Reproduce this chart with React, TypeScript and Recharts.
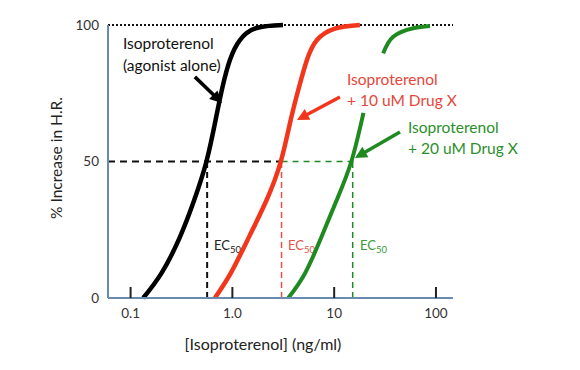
import React from "react";
import {
  LineChart,
  Line,
  XAxis,
  YAxis,
  ReferenceLine,
  Customized,
} from "recharts";

// ---------- data ----------
const blackX = [0.133, 0.202, 0.305, 0.422, 0.556, 0.684, 0.8, 0.946, 1.186, 1.73, 3.14];
const blackY = [0, 9.2, 22.3, 35.9, 50, 65.2, 77.3, 87.2, 94.5, 98.9, 100];

const redX = [0.673, 0.967, 1.454, 2.17, 2.99, 3.74, 4.52, 5.4, 6.77, 10.17, 17.9];
const redY = [0, 9.2, 22.3, 35.9, 50, 65.2, 77.3, 87.2, 94.5, 98.7, 100];

const greenLowX = [3.54, 5.16, 7.53, 10.6, 14.75, 19.4];
const greenLowY = [0, 9, 22.5, 35.9, 50, 67.8];
const greenHighX = [30.3, 38.0, 59.8, 87.3];
const greenHighY = [89.6, 95.7, 98.8, 99.6];

const ec50Black = 0.565;
const ec50Red = 3.04;
const ec50Green = 15.2;
const greenDashEnd = 16.2;

const xTicks = [0.1, 1, 10, 100];
const xTickLabels = ["0.1", "1.0", "10", "100"];
const yTicks = [0, 50, 100];

// arrows: [fromX, fromY, toX, toY]
const arrowBlack = [0.428, 81.0, 0.789, 71.4];
const arrowRed = [11.4, 73.6, 4.31, 65.2];
const arrowGreen = [44.3, 60.8, 16.0, 51.3];

const toPts = (xs: number[], ys: number[]) => xs.map((x, i) => ({ x, y: ys[i] }));

const FONT = "Lato, 'Open Sans', sans-serif";
const RED = "#f2361c";
const GREEN = "#1f8a1f";
const AXIS = "#6a8bb0";

const XTick = (props: any) => {
  const { x, y, payload } = props;
  const i = xTicks.indexOf(payload.value);
  const y0 = y - 10;
  return (
    <g>
      <line x1={x} y1={y0} x2={x} y2={y0 - 11} stroke="#222" strokeWidth={2} />
      <text x={x} y={y} dy="0.71em" textAnchor="middle" fontSize={13.5} fill="#333" fontFamily={FONT}>
        {i >= 0 ? xTickLabels[i] : payload.value}
      </text>
    </g>
  );
};

const makeArrow = (color: string, width: number) => (p: any) => {
  const { x1, y1, x2, y2 } = p;
  const dx = x2 - x1;
  const dy = y2 - y1;
  const len = Math.sqrt(dx * dx + dy * dy) || 1;
  const ux = dx / len;
  const uy = dy / len;
  const hl = 12;
  const hw = 6;
  const bx = x2 - ux * hl;
  const by = y2 - uy * hl;
  const pts = `${x2},${y2} ${bx - uy * hw},${by + ux * hw} ${bx + uy * hw},${by - ux * hw}`;
  return (
    <g>
      <line x1={x1} y1={y1} x2={bx + ux * 2} y2={by + uy * 2} stroke={color} strokeWidth={width} />
      <polygon points={pts} fill={color} />
    </g>
  );
};

const Ec = ({ x, color }: { x: number; color: string }) => (
  <text x={x} y={250} fontSize={13} fill={color} fontFamily={FONT}>
    EC
    <tspan fontSize={9.5} dy={3}>
      50
    </tspan>
  </text>
);

const Annotations = () => (
  <g fontFamily={FONT}>
    <text x={123} y={49} fontSize={15.5} fill="#111">Isoproterenol</text>
    <text x={123} y={71} fontSize={15.5} fill="#111">(agonist alone)</text>
    <text x={347} y={85} fontSize={15.5} fill="#e5463a">Isoproterenol</text>
    <text x={347} y={106} fontSize={15.5} fill="#e5463a">+ 10 uM Drug X</text>
    <text x={408} y={133} fontSize={15.5} fill="#2a8f2a">Isoproterenol</text>
    <text x={408} y={154} fontSize={15.5} fill="#2a8f2a">+ 20 uM Drug X</text>
    <Ec x={214} color="#222" />
    <Ec x={288} color="#e0524a" />
    <Ec x={360} color="#3a9a3a" />
    <text x={263} y={350} textAnchor="middle" fontSize={16} fill="#222">
      [Isoproterenol] (ng/ml)
    </text>
    <text
      x={58}
      y={158}
      textAnchor="middle"
      dominantBaseline="middle"
      fontSize={15.5}
      fill="#222"
      transform="rotate(-90 58 158)"
    >
      % Increase in H.R.
    </text>
  </g>
);

export default function App() {
  return (
    <div style={{ position: "absolute", left: 0, top: 0, background: "#fff" }}>
      <LineChart
        width={580}
        height={370}
        margin={{ top: 25, right: 127, bottom: 42, left: 68 }}
      >
        <XAxis
          type="number"
          dataKey="x"
          scale="log"
          domain={[0.06, 147]}
          allowDataOverflow
          ticks={xTicks}
          tick={<XTick />}
          tickLine={false}
          tickSize={8}
          tickMargin={2}
          height={30}
          axisLine={{ stroke: AXIS, strokeWidth: 2 }}
        />
        <YAxis
          type="number"
          dataKey="y"
          domain={[0, 100]}
          ticks={yTicks}
          width={40}
          tickLine={false}
          tickSize={6}
          tickMargin={3}
          tick={{ fontSize: 13.5, fill: "#333", fontFamily: FONT }}
          axisLine={{ stroke: AXIS, strokeWidth: 2 }}
        />
        <ReferenceLine y={100} stroke="#111" strokeWidth={2} strokeDasharray="2 2" />
        <ReferenceLine
          segment={[{ x: 0.06, y: 50 }, { x: ec50Red, y: 50 }]}
          stroke="#111"
          strokeWidth={2}
          strokeDasharray="7 5"
        />
        <ReferenceLine
          segment={[{ x: ec50Red, y: 50 }, { x: greenDashEnd, y: 50 }]}
          stroke={GREEN}
          strokeWidth={1.5}
          strokeDasharray="6 5"
        />
        <ReferenceLine
          segment={[{ x: ec50Black, y: 0 }, { x: ec50Black, y: 50 }]}
          stroke="#111"
          strokeWidth={2}
          strokeDasharray="6 4"
        />
        <ReferenceLine
          segment={[{ x: ec50Red, y: 0 }, { x: ec50Red, y: 50 }]}
          stroke="#e0524a"
          strokeWidth={1.5}
          strokeDasharray="6 4"
        />
        <ReferenceLine
          segment={[{ x: ec50Green, y: 0 }, { x: ec50Green, y: 50 }]}
          stroke={GREEN}
          strokeWidth={1.5}
          strokeDasharray="6 4"
        />
        <Line data={toPts(blackX, blackY)} dataKey="y" type="natural" stroke="#000" strokeWidth={4.5} dot={false} isAnimationActive={false} />
        <Line data={toPts(redX, redY)} dataKey="y" type="natural" stroke={RED} strokeWidth={4.5} dot={false} isAnimationActive={false} />
        <Line data={toPts(greenLowX, greenLowY)} dataKey="y" type="natural" stroke={GREEN} strokeWidth={4} dot={false} isAnimationActive={false} />
        <Line data={toPts(greenHighX, greenHighY)} dataKey="y" type="natural" stroke={GREEN} strokeWidth={4} dot={false} isAnimationActive={false} />
        <ReferenceLine
          segment={[{ x: arrowBlack[0], y: arrowBlack[1] }, { x: arrowBlack[2], y: arrowBlack[3] }]}
          shape={makeArrow("#000", 3.5)}
        />
        <ReferenceLine
          segment={[{ x: arrowRed[0], y: arrowRed[1] }, { x: arrowRed[2], y: arrowRed[3] }]}
          shape={makeArrow(RED, 3.5)}
        />
        <ReferenceLine
          segment={[{ x: arrowGreen[0], y: arrowGreen[1] }, { x: arrowGreen[2], y: arrowGreen[3] }]}
          shape={makeArrow(GREEN, 3.5)}
        />
        <Customized component={Annotations} />
      </LineChart>
    </div>
  );
}
